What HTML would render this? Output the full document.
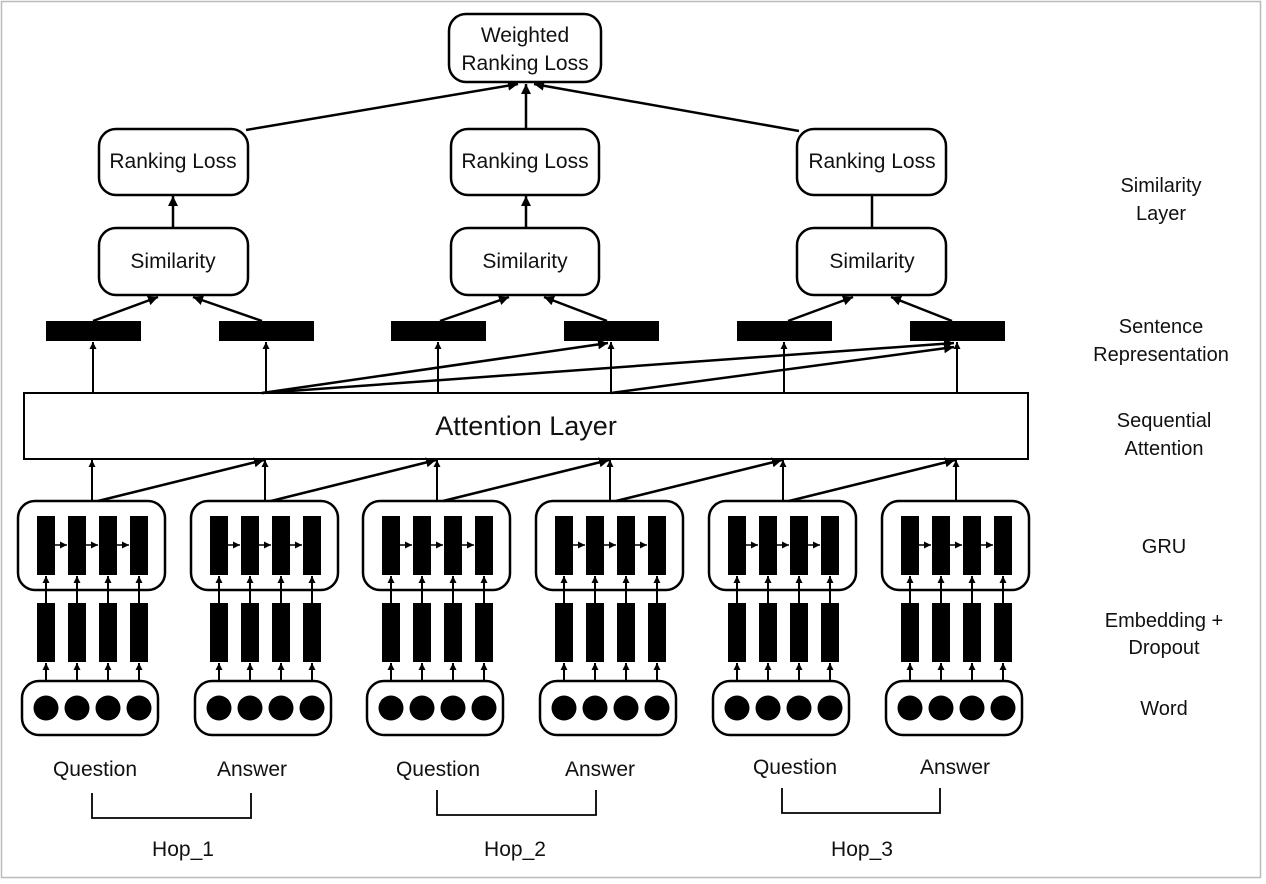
<!DOCTYPE html>
<html><head><meta charset="utf-8"><style>
html,body{margin:0;padding:0;background:#fff;}
svg{display:block;}
text{font-family:"Liberation Sans",sans-serif;fill:#111;}
</style></head><body>
<svg width="1266" height="884" viewBox="0 0 1266 884" xmlns="http://www.w3.org/2000/svg">
<defs>
<marker id="a" markerUnits="userSpaceOnUse" markerWidth="12" markerHeight="12" refX="10" refY="5" orient="auto">
<path d="M0,0 L10,5 L0,10 z" fill="#000"/>
</marker>
<marker id="s" markerUnits="userSpaceOnUse" markerWidth="8" markerHeight="8" refX="7" refY="3.5" orient="auto">
<path d="M0,0 L7,3.5 L0,7 z" fill="#000"/>
</marker>
<g id="grp">
<rect x="-75" y="501" width="147" height="89" rx="17" fill="#fff" stroke="#000" stroke-width="2.5"/>
<rect x="-56" y="516" width="18" height="59" fill="#000"/>
<rect x="-25" y="516" width="18" height="59" fill="#000"/>
<rect x="6" y="516" width="18" height="59" fill="#000"/>
<rect x="37" y="516" width="18" height="59" fill="#000"/>
<line x1="-38" y1="545" x2="-26" y2="545" stroke="#000" stroke-width="1.5" marker-end="url(#s)"/>
<line x1="-7" y1="545" x2="5" y2="545" stroke="#000" stroke-width="1.5" marker-end="url(#s)"/>
<line x1="24" y1="545" x2="36" y2="545" stroke="#000" stroke-width="1.5" marker-end="url(#s)"/>
<rect x="-56" y="603" width="18" height="59" fill="#000"/>
<rect x="-25" y="603" width="18" height="59" fill="#000"/>
<rect x="6" y="603" width="18" height="59" fill="#000"/>
<rect x="37" y="603" width="18" height="59" fill="#000"/>
<g stroke="#000" stroke-width="2">
<line x1="-47" y1="603" x2="-47" y2="576" marker-end="url(#s)"/>
<line x1="-16" y1="603" x2="-16" y2="576" marker-end="url(#s)"/>
<line x1="15" y1="603" x2="15" y2="576" marker-end="url(#s)"/>
<line x1="46" y1="603" x2="46" y2="576" marker-end="url(#s)"/>
<line x1="-47" y1="681" x2="-47" y2="663" marker-end="url(#s)"/>
<line x1="-16" y1="681" x2="-16" y2="663" marker-end="url(#s)"/>
<line x1="15" y1="681" x2="15" y2="663" marker-end="url(#s)"/>
<line x1="46" y1="681" x2="46" y2="663" marker-end="url(#s)"/>
<line x1="-1" y1="501" x2="-1" y2="460" marker-end="url(#s)"/>
</g>
<rect x="-71" y="681" width="136" height="54" rx="17" fill="#fff" stroke="#000" stroke-width="2.5"/>
<circle cx="-47" cy="708" r="12.5" fill="#000"/>
<circle cx="-16" cy="708" r="12.5" fill="#000"/>
<circle cx="15" cy="708" r="12.5" fill="#000"/>
<circle cx="46" cy="708" r="12.5" fill="#000"/>
<rect x="-47" y="321" width="95" height="20" fill="#000"/>
</g>
</defs>
<rect x="1.5" y="1.5" width="1259" height="876" fill="#fff" stroke="#bbb" stroke-width="1.5"/>

<use href="#grp" x="93"/>
<use href="#grp" x="266"/>
<use href="#grp" x="438"/>
<use href="#grp" x="611"/>
<use href="#grp" x="784"/>
<use href="#grp" x="957"/>

<rect x="24" y="393" width="1004" height="66" fill="#fff" stroke="#000" stroke-width="2"/>
<text x="526" y="435" font-size="27" text-anchor="middle">Attention Layer</text>
<g stroke="#000" stroke-width="2">
<line x1="93" y1="393" x2="93" y2="342" marker-end="url(#s)"/>
<line x1="266" y1="393" x2="266" y2="342" marker-end="url(#s)"/>
<line x1="438" y1="393" x2="438" y2="342" marker-end="url(#s)"/>
<line x1="611" y1="393" x2="611" y2="342" marker-end="url(#s)"/>
<line x1="784" y1="393" x2="784" y2="342" marker-end="url(#s)"/>
<line x1="957" y1="393" x2="957" y2="342" marker-end="url(#s)"/>
</g>
<g stroke="#000" stroke-width="2.5" fill="none">
<line x1="98" y1="501" x2="264" y2="460" marker-end="url(#a)"/>
<line x1="271" y1="501" x2="436" y2="460" marker-end="url(#a)"/>
<line x1="443" y1="501" x2="609" y2="460" marker-end="url(#a)"/>
<line x1="616" y1="501" x2="782" y2="460" marker-end="url(#a)"/>
<line x1="789" y1="501" x2="955" y2="460" marker-end="url(#a)"/>
<line x1="262" y1="393" x2="608" y2="343" marker-end="url(#a)"/>
<line x1="262" y1="393" x2="954" y2="343" marker-end="url(#a)"/>
<line x1="611" y1="393" x2="954" y2="347" marker-end="url(#a)"/>
<line x1="93" y1="321" x2="158" y2="297" marker-end="url(#a)"/>
<line x1="262" y1="321" x2="193" y2="297" marker-end="url(#a)"/>
<line x1="440" y1="321" x2="509" y2="297" marker-end="url(#a)"/>
<line x1="607" y1="321" x2="544" y2="297" marker-end="url(#a)"/>
<line x1="788" y1="321" x2="853" y2="297" marker-end="url(#a)"/>
<line x1="952" y1="321" x2="891" y2="297" marker-end="url(#a)"/>
<line x1="173" y1="228" x2="173" y2="196" marker-end="url(#a)"/>
<line x1="526" y1="228" x2="526" y2="196" marker-end="url(#a)"/>
<line x1="872" y1="228" x2="872" y2="196"/>
<line x1="246" y1="130" x2="518" y2="84" marker-end="url(#a)"/>
<line x1="526" y1="129" x2="526" y2="84" marker-end="url(#a)"/>
<line x1="799" y1="131" x2="534" y2="84" marker-end="url(#a)"/>
</g>
<g fill="#fff" stroke="#000" stroke-width="2.5">
<rect x="99" y="228" width="149" height="67" rx="17"/>
<rect x="451" y="228" width="148" height="67" rx="17"/>
<rect x="797" y="228" width="149" height="67" rx="17"/>
<rect x="99" y="129" width="149" height="66" rx="17"/>
<rect x="451" y="129" width="148" height="66" rx="17"/>
<rect x="797" y="129" width="149" height="66" rx="17"/>
<rect x="449" y="14" width="152" height="68" rx="17"/>
</g>
<g font-size="21" text-anchor="middle">
<text x="173" y="168">Ranking Loss</text>
<text x="525" y="168">Ranking Loss</text>
<text x="872" y="168">Ranking Loss</text>
<text x="173" y="268">Similarity</text>
<text x="525" y="268">Similarity</text>
<text x="872" y="268">Similarity</text>
<text x="525" y="42">Weighted</text>
<text x="525" y="70">Ranking Loss</text>
</g>
<g font-size="21" text-anchor="middle">
<text x="95" y="776">Question</text>
<text x="252" y="776">Answer</text>
<text x="438" y="776">Question</text>
<text x="600" y="776">Answer</text>
<text x="795" y="774">Question</text>
<text x="955" y="774">Answer</text>
<text x="183" y="856">Hop_1</text>
<text x="515" y="856">Hop_2</text>
<text x="862" y="856">Hop_3</text>
</g>
<g stroke="#000" stroke-width="1.8" fill="none">
<polyline points="92,793 92,818 251,818 251,793"/>
<polyline points="437,790 437,815 596,815 596,790"/>
<polyline points="782,788 782,813 940,813 940,788"/>
</g>
<g font-size="20" text-anchor="middle">
<text x="1161" y="192">Similarity</text>
<text x="1161" y="220">Layer</text>
<text x="1161" y="333">Sentence</text>
<text x="1161" y="361">Representation</text>
<text x="1164" y="427">Sequential</text>
<text x="1164" y="455">Attention</text>
<text x="1164" y="553">GRU</text>
<text x="1164" y="627">Embedding +</text>
<text x="1164" y="654">Dropout</text>
<text x="1164" y="715">Word</text>
</g>
</svg>
</body></html>
